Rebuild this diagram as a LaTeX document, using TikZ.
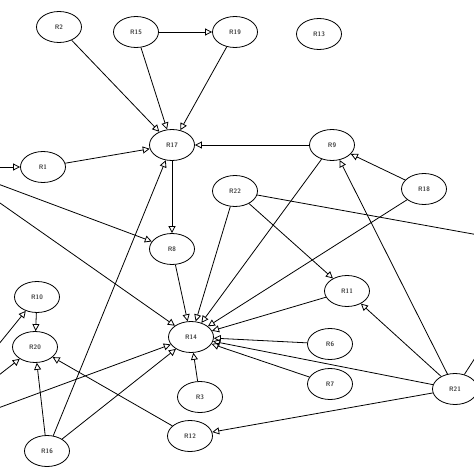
\documentclass[tikz,border=0pt]{standalone}
\usetikzlibrary{arrows.meta, shapes.geometric}

\begin{document}
\begin{tikzpicture}[
    x=1pt, y=-1pt,
    % Style for the rule nodes
    rule/.style={ellipse, draw, thick, fill=white, minimum width=45pt, minimum height=31pt,
        inner sep=0pt, font=\fontsize{6.5}{7}\selectfont\sffamily\bfseries, text=black!75},
    % Style for the open-headed connectors
    link/.style={thick, -{Triangle[open, length=7pt, width=7pt]}},
    plain/.style={thick}
]
    \useasboundingbox (0,0) rectangle (474,474);

    % --- 1. Rule Nodes ---
    \node[rule] (R2)  at (59, 27)  {R2};
    \node[rule] (R15) at (136, 32) {R15};
    \node[rule] (R19) at (235, 32) {R19};
    \node[rule] (R13) at (319, 34) {R13};

    \node[rule] (R1)  at (43, 167)  {R1};
    \node[rule] (R17) at (172, 145) {R17};
    \node[rule] (R9)  at (332, 145) {R9};
    \node[rule] (R22) at (235, 191) {R22};
    \node[rule] (R18) at (424, 189) {R18};

    \node[rule] (R8)  at (172, 249) {R8};
    \node[rule] (R11) at (347, 291) {R11};
    \node[rule] (R10) at (37, 297)  {R10};
    \node[rule] (R14) at (191, 337) {R14};
    \node[rule] (R6)  at (330, 344) {R6};
    \node[rule] (R20) at (35, 347)  {R20};
    \node[rule] (R7)  at (330, 384) {R7};
    \node[rule] (R21) at (455, 389) {R21};
    \node[rule] (R3)  at (200, 397) {R3};
    \node[rule] (R12) at (190, 436) {R12};
    \node[rule] (R16) at (47, 451)  {R16};

    % --- 2. Loose Ends (edges leaving the frame) ---
    \coordinate (inR1)   at (-10, 167);
    \coordinate (inR8)   at (-10, 181);
    \coordinate (inR14a) at (-10, 196);
    \coordinate (inR10)  at (-10, 355);
    \coordinate (inR20)  at (-10, 382);
    \coordinate (inR14b) at (-10, 411);
    \coordinate (outR22) at (484, 236);
    \coordinate (outR21) at (484, 344);

    % --- 3. Connectors ---
    % into R17
    \draw[link] (R2) -- (R17);
    \draw[link] (R15) -- (R17);
    \draw[link] (R19) -- (R17);
    \draw[link] (R15) -- (R19);
    \draw[link] (R1) -- (R17);
    \draw[link] (R9) -- (R17);
    \draw[link] (R16) -- (R17);
    \draw[link] (inR1) -- (R1);

    % into R8
    \draw[link] (R17) -- (R8);
    \draw[link] (inR8) -- (R8);

    % into R9 and R11
    \draw[link] (R18) -- (R9);
    \draw[link] (R21) -- (R9);
    \draw[link] (R22) -- (R11);
    \draw[link] (R21) -- (R11);

    % into R14
    \draw[link] (R8) -- (R14);
    \draw[link] (R22) -- (R14);
    \draw[link] (R9) -- (R14);
    \draw[link] (R18) -- (R14);
    \draw[link] (R11) -- (R14);
    \draw[link] (R6) -- (R14);
    \draw[link] (R7) -- (R14);
    \draw[link] (R21) -- (R14);
    \draw[link] (R3) -- (R14);
    \draw[link] (R16) -- (R14);
    \draw[link] (inR14a) -- (R14);
    \draw[link] (inR14b) -- (R14);

    % into R20, R10 and R12
    \draw[link] (R10) -- (R20);
    \draw[link] (R16) -- (R20);
    \draw[link] (R12) -- (R20);
    \draw[link] (inR20) -- (R20);
    \draw[link] (inR10) -- (R10);
    \draw[link] (R21) -- (R12);

    % leaving the frame
    \draw[plain] (R22) -- (outR22);
    \draw[plain] (R21) -- (outR21);

\end{tikzpicture}
\end{document}
